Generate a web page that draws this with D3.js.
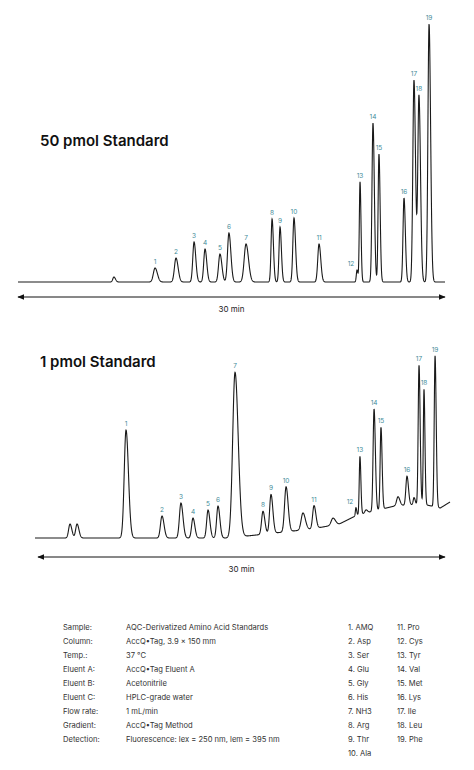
<!DOCTYPE html>
<html>
<head>
<meta charset="utf-8">
<script src="https://cdn.jsdelivr.net/npm/d3@7"></script>
<style>
  body { margin: 0; background: #fff; }
  svg { font-family: Inter, "Noto Sans", sans-serif; }
</style>
</head>
<body>
<script>
// peaks: retention time (min), height (signal units), width (sigma, min)
let topLabels = ["", "1","2","3","4","5","6","7","8","9","10","11","12","13","14","15","16","17","18","19"];
let topTimes = [6.74, 9.63, 11.10, 12.37, 13.14, 14.19, 14.82, 16.02, 17.85, 18.41, 19.39, 21.15, 23.82, 24.03, 24.94, 25.36, 27.12, 27.82, 28.17, 28.88];
let topHeights = [5, 14, 24, 40, 33, 28, 49, 38, 63, 55, 64, 38, 12, 100, 159, 128, 84, 202, 186, 258];
let topWidths = [0.08, 0.12, 0.11, 0.09, 0.09, 0.10, 0.10, 0.13, 0.07, 0.07, 0.08, 0.09, 0.05, 0.05, 0.07, 0.06, 0.07, 0.08, 0.08, 0.08];

let botLabels = ["", "", "1","2","3","4","5","6","7","8","9","10","","11","","12","13","","14","15","","16","","17","18","19"];
let botTimes = [2.53, 3.04, 6.58, 9.18, 10.55, 11.42, 12.51, 13.23, 14.46, 16.48, 17.06, 18.15, 19.37, 20.17, 21.54, 23.20, 23.49, 23.93, 24.51, 25.01, 26.24, 26.89, 27.40, 27.76, 28.12, 28.92];
let botHeights = [14, 14, 108, 22, 35, 20, 28, 32, 165, 23, 39, 45, 17, 23, 7, 8, 58, 3, 102, 82, 9, 29, 7, 139, 115, 151];
let botWidths = [0.1, 0.1, 0.13, 0.11, 0.11, 0.1, 0.1, 0.1, 0.17, 0.1, 0.1, 0.11, 0.13, 0.1, 0.13, 0.04, 0.05, 0.08, 0.07, 0.06, 0.1, 0.08, 0.06, 0.06, 0.05, 0.06];
let botBaseT = [0, 14, 16, 18, 20, 22, 23.3, 24.5, 26, 28, 29.3, 30];
let botBaseV = [0, 0, 3, 6, 9, 14, 23, 27, 32, 34, 30, 36];

let infoKeys = ["Sample:", "Column:", "Temp.:", "Eluent A:", "Eluent B:", "Eluent C:", "Flow rate:", "Gradient:", "Detection:"];
let infoVals = ["AQC-Derivatized Amino Acid Standards", "AccQ\u2022Tag, 3.9 x 150 mm", "37 \u00b0C", "AccQ\u2022Tag Eluent A", "Acetonitrile", "HPLC-grade water", "1 mL/min", "AccQ\u2022Tag Method", "Fluorescence: lex = 250 nm, lem = 395 nm"];
let aminoAcids = ["AMQ","Asp","Ser","Glu","Gly","His","NH3","Arg","Thr","Ala","Pro","Cys","Tyr","Val","Met","Lys","Ile","Leu","Phe"];

let W = 474, H = 770;
let svg = d3.select("body").append("svg").attr("width", W).attr("height", H);
let teal = "#3f8c99";

svg.append("defs").append("marker").attr("id", "ah").attr("viewBox", "0 0 10 10")
  .attr("refX", 9).attr("refY", 5).attr("markerWidth", 7).attr("markerHeight", 7)
  .attr("orient", "auto-start-reverse")
  .append("path").attr("d", "M0,1 L10,5 L0,9 Z").attr("fill", "#111");

let DrawTrace = (opt) =>
{
  let x = d3.scaleLinear().domain([0, 30]).range(opt.xr);
  let y = d3.scaleLinear().domain([0, 100]).range([opt.base, opt.base - 100]);
  let baseAt = opt.baseT ? d3.scaleLinear().domain(opt.baseT).range(opt.baseV) : () => 0;
  let signal = (t) =>
  {
    let s = baseAt(t);
    opt.times.forEach((p, i) =>
    {
      let w = opt.widths[i];
      let d = t - p;
      // slight tailing
      let sw = d > 0 ? w * 1.35 : w;
      s += opt.heights[i] * Math.exp(-d * d / (2 * sw * sw));
    });
    return s;
  };
  let ts = d3.range(0, 30.001, 0.01);
  svg.append("path").datum(ts)
    .attr("d", d3.line().x(t => x(t)).y(t => y(signal(t))))
    .attr("fill", "none").attr("stroke", "#1a1a1a").attr("stroke-width", 1.1);

  svg.append("g").selectAll("text").data(opt.times).enter().append("text")
    .attr("x", (d, i) => x(d) + (opt.labels[i] == "12" ? -6 : 0))
    .attr("y", (d, i) => y(signal(d)) - 4)
    .attr("text-anchor", "middle").attr("font-size", 6.5).attr("fill", teal)
    .text((d, i) => opt.labels[i]);

  svg.append("line").attr("x1", opt.ar[0]).attr("x2", opt.ar[1]).attr("y1", opt.ay).attr("y2", opt.ay)
    .attr("stroke", "#111").attr("stroke-width", 1)
    .attr("marker-start", "url(#ah)").attr("marker-end", "url(#ah)");
  svg.append("text").attr("x", (opt.ar[0] + opt.ar[1]) / 2).attr("y", opt.ay + 15)
    .attr("text-anchor", "middle").attr("font-size", 8).attr("fill", "#222").text("30 min");
  svg.append("text").attr("x", 40).attr("y", opt.titleY).attr("font-size", 15).attr("font-weight", 600)
    .attr("fill", "#111").text(opt.title);
};

DrawTrace({ xr: [18, 445], base: 282, times: topTimes, heights: topHeights, widths: topWidths,
  labels: topLabels, ar: [18, 445], ay: 297, title: "50 pmol Standard", titleY: 146 });
DrawTrace({ xr: [35, 450], base: 538, times: botTimes, heights: botHeights, widths: botWidths,
  labels: botLabels, baseT: botBaseT, baseV: botBaseV, ar: [38, 445], ay: 557, title: "1 pmol Standard", titleY: 367 });

let info = svg.append("g").attr("font-size", 7.6).attr("fill", "#333");
infoKeys.forEach((k, i) =>
{
  info.append("text").attr("x", 63).attr("y", 630 + i * 14).text(k);
  info.append("text").attr("x", 126).attr("y", 630 + i * 14).text(infoVals[i]);
});
aminoAcids.forEach((a, i) =>
{
  info.append("text").attr("x", i < 10 ? 348 : 397).attr("y", 630 + (i % 10) * 14).text((i + 1) + ". " + a);
});
</script>
</body>
</html>
